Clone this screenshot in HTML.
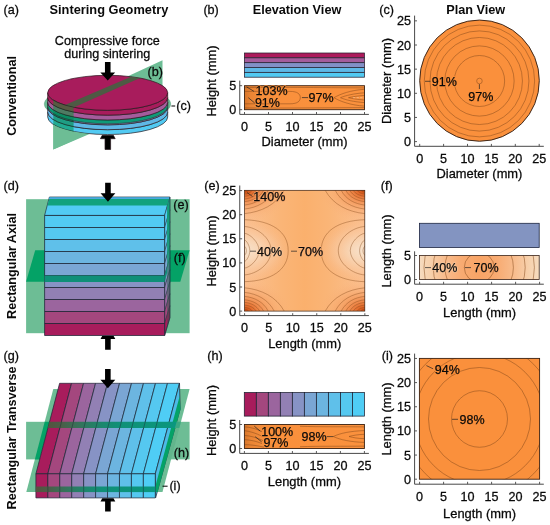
<!DOCTYPE html>
<html lang="en"><head><meta charset="utf-8"><title>Sintering geometry</title>
<style>
html,body{margin:0;padding:0;background:#fff;}
body{width:550px;height:525px;overflow:hidden;}
svg{display:block;font-family:"Liberation Sans",Arial,Helvetica,sans-serif;}
</style></head><body>
<svg width="550" height="525" viewBox="0 0 550 525">
<defs>
<radialGradient id="gC" cx="0.5" cy="0.5" r="0.5"><stop offset="0" stop-color="#f68c44"/><stop offset="1" stop-color="#f0873f"/></radialGradient>
<linearGradient id="gB" x1="0" x2="1" y1="0" y2="0"><stop offset="0" stop-color="#d8762a"/><stop offset="0.05" stop-color="#e98434"/><stop offset="0.15" stop-color="#f48e3c"/><stop offset="0.3" stop-color="#fa903c"/><stop offset="1" stop-color="#fa913d"/></linearGradient>
<linearGradient id="gF" x1="0" x2="1" y1="0" y2="0"><stop offset="0" stop-color="#f6dcc0"/><stop offset="0.08" stop-color="#f7d2ae"/><stop offset="0.2" stop-color="#f8be90"/><stop offset="0.35" stop-color="#f8ab72"/><stop offset="0.5" stop-color="#f8a466"/><stop offset="0.65" stop-color="#f8ab72"/><stop offset="0.8" stop-color="#f8be90"/><stop offset="0.92" stop-color="#f7d2ae"/><stop offset="1" stop-color="#f6dcc0"/></linearGradient>
<radialGradient id="gEcorner" cx="0.5" cy="0.5" r="0.5"><stop offset="0" stop-color="#d14a10" stop-opacity="1"/><stop offset="0.12" stop-color="#dd5e20" stop-opacity="0.95"/><stop offset="0.28" stop-color="#e97534" stop-opacity="0.8"/><stop offset="0.5" stop-color="#f18c4b" stop-opacity="0.5"/><stop offset="0.75" stop-color="#f6a268" stop-opacity="0.22"/><stop offset="1" stop-color="#f8b17b" stop-opacity="0"/></radialGradient>
<radialGradient id="gEside" cx="0.5" cy="0.5" r="0.5"><stop offset="0" stop-color="#f7e4d0" stop-opacity="1"/><stop offset="0.3" stop-color="#f8d8ba" stop-opacity="0.9"/><stop offset="0.65" stop-color="#f9c8a0" stop-opacity="0.5"/><stop offset="1" stop-color="#f8b17b" stop-opacity="0"/></radialGradient>
<linearGradient id="gEmid" x1="0" x2="1" y1="0" y2="0"><stop offset="0" stop-color="#fbc090"/><stop offset="0.3" stop-color="#fab577"/><stop offset="0.5" stop-color="#fab06d"/><stop offset="0.7" stop-color="#fab577"/><stop offset="1" stop-color="#fbc090"/></linearGradient>
<clipPath id="cE"><rect x="244.6" y="190.3" width="120.2" height="120.8"/></clipPath>
<clipPath id="cI"><rect x="419.4" y="358.4" width="120.2" height="120.8"/></clipPath>
<clipPath id="cF"><rect x="419.4" y="255.5" width="119.8" height="24"/></clipPath>
<clipPath id="cB"><rect x="244.5" y="85.7" width="120" height="24"/></clipPath>
<clipPath id="cH"><rect x="244.4" y="424.5" width="120" height="24"/></clipPath>
</defs>
<rect width="550" height="525" fill="#fff"/>

<text x="108.9" y="13.9" font-size="12.8" text-anchor="middle" font-weight="bold" fill="#0a0a0a">Sintering Geometry</text>
<text x="297" y="13.9" font-size="12.7" text-anchor="middle" font-weight="bold" fill="#0a0a0a">Elevation View</text>
<text x="475.7" y="13.9" font-size="12.7" text-anchor="middle" font-weight="bold" fill="#0a0a0a">Plan View</text>
<text x="15.7" y="96" font-size="12.6" text-anchor="middle" font-weight="bold" transform="rotate(-90 15.7 96)" fill="#0a0a0a">Conventional</text>
<text x="15.7" y="266" font-size="12.6" text-anchor="middle" font-weight="bold" transform="rotate(-90 15.7 266)" fill="#0a0a0a">Rectangular Axial</text>
<text x="15.7" y="438" font-size="12.6" text-anchor="middle" font-weight="bold" transform="rotate(-90 15.7 438)" fill="#0a0a0a">Rectangular Transverse</text>
<text x="3.6" y="13.9" font-size="12.6" text-anchor="start" fill="#0a0a0a" stroke="#0a0a0a" stroke-width="0.28">(a)</text>
<text x="203.4" y="13.9" font-size="12.6" text-anchor="start" fill="#0a0a0a" stroke="#0a0a0a" stroke-width="0.28">(b)</text>
<text x="379.2" y="13.9" font-size="12.6" text-anchor="start" fill="#0a0a0a" stroke="#0a0a0a" stroke-width="0.28">(c)</text>
<text x="3.6" y="189.7" font-size="12.6" text-anchor="start" fill="#0a0a0a" stroke="#0a0a0a" stroke-width="0.28">(d)</text>
<text x="204.2" y="190.3" font-size="12.6" text-anchor="start" fill="#0a0a0a" stroke="#0a0a0a" stroke-width="0.28">(e)</text>
<text x="380.7" y="190.3" font-size="12.6" text-anchor="start" fill="#0a0a0a" stroke="#0a0a0a" stroke-width="0.28">(f)</text>
<text x="3.6" y="359.6" font-size="12.6" text-anchor="start" fill="#0a0a0a" stroke="#0a0a0a" stroke-width="0.28">(g)</text>
<text x="207.2" y="360.3" font-size="12.6" text-anchor="start" fill="#0a0a0a" stroke="#0a0a0a" stroke-width="0.28">(h)</text>
<text x="381.7" y="360.3" font-size="12.6" text-anchor="start" fill="#0a0a0a" stroke="#0a0a0a" stroke-width="0.28">(i)</text>
<clipPath id="cTop"><ellipse cx="107.7" cy="92.8" rx="60.0" ry="17.5"/></clipPath>
<clipPath id="cDisc"><path d="M47.7 92.8A60.0 17.5 0 0 0 167.7 92.8V117.05A60.0 17.5 0 0 1 47.7 117.05Z"/></clipPath>
<g stroke="#2a1a20" stroke-width="0.7" stroke-linejoin="round">
<polygon points="53.3,110.7 162.5,60.3 162.5,100 53.3,149.6" fill="#6dbd95" stroke="none"/>
<path d="M102.20 135.3H113.40L115.20 138.70000000000002H110.60V149.5H105.00V138.70000000000002H100.40Z" fill="#000"/>
<ellipse cx="107.5" cy="104.0" rx="63.3" ry="19.2" fill="#6dbd95" stroke="#5fa080" stroke-width="0.4"/>
<path d="M47.7 112.19999999999999A60.0 17.5 0 0 0 167.7 112.19999999999999V117.05A60.0 17.5 0 0 1 47.7 117.05Z" fill="#52caf2"/>
<path d="M47.7 107.35A60.0 17.5 0 0 0 167.7 107.35V112.19999999999999A60.0 17.5 0 0 1 47.7 112.19999999999999Z" fill="#5fb8e6"/>
<path d="M47.7 102.5A60.0 17.5 0 0 0 167.7 102.5V107.35A60.0 17.5 0 0 1 47.7 107.35Z" fill="#8290c6"/>
<path d="M47.7 102.5A60.0 17.5 0 0 0 167.7 102.5V106.3A60.0 17.5 0 0 1 47.7 106.3Z" fill="#0f9a78" stroke-width="0.5"/>
<path d="M47.7 97.64999999999999A60.0 17.5 0 0 0 167.7 97.64999999999999V102.5A60.0 17.5 0 0 1 47.7 102.5Z" fill="#a45c9b"/>
<path d="M47.7 92.8A60.0 17.5 0 0 0 167.7 92.8V97.64999999999999A60.0 17.5 0 0 1 47.7 97.64999999999999Z" fill="#a81c5c"/>
<ellipse cx="107.7" cy="92.8" rx="60.0" ry="17.5" fill="#a81c5c"/>
</g>
<polygon clip-path="url(#cTop)" points="131,76.7 131.6,75.5 141,77.4 140,78.0 73.6,107.4 73.6,116 46,116 46,113.1" fill="#4e5a44"/>
<clipPath id="cTint"><rect x="53.3" y="95" width="20.3" height="50"/></clipPath>
<g clip-path="url(#cTint)" stroke="#1a2a22" stroke-width="0.6">
<path d="M47.7 112.19999999999999A60.0 17.5 0 0 0 167.7 112.19999999999999V117.05A60.0 17.5 0 0 1 47.7 117.05Z" fill="#22ab92"/>
<path d="M47.7 107.35A60.0 17.5 0 0 0 167.7 107.35V112.19999999999999A60.0 17.5 0 0 1 47.7 112.19999999999999Z" fill="#1f9d84"/>
<path d="M47.7 102.5A60.0 17.5 0 0 0 167.7 102.5V107.35A60.0 17.5 0 0 1 47.7 107.35Z" fill="#2a8a7a"/>
<path d="M47.7 102.5A60.0 17.5 0 0 0 167.7 102.5V106.3A60.0 17.5 0 0 1 47.7 106.3Z" fill="#0b8a62"/>
<path d="M47.7 97.64999999999999A60.0 17.5 0 0 0 167.7 97.64999999999999V102.5A60.0 17.5 0 0 1 47.7 102.5Z" fill="#4f7a62"/>
<path d="M47.7 92.8A60.0 17.5 0 0 0 167.7 92.8V97.64999999999999A60.0 17.5 0 0 1 47.7 97.64999999999999Z" fill="#585a42"/>
</g>
<path d="M53.3 124.6A60 17.5 0 0 0 89.5 133.9L53.3 149.6Z" fill="#6dbd95"/>
<path d="M104.95 61.9H110.55V72.5H115.15L107.75 80.6L100.35 72.5H104.95Z" fill="#000"/>
<text x="107.3" y="44.5" font-size="12.6" text-anchor="middle" fill="#0a0a0a" stroke="#0a0a0a" stroke-width="0.28">Compressive force</text>
<text x="107.3" y="57.8" font-size="12.6" text-anchor="middle" fill="#0a0a0a" stroke="#0a0a0a" stroke-width="0.28">during sintering</text>
<text x="147.5" y="76.0" font-size="12.6" text-anchor="start" fill="#0a0a0a" stroke="#0a0a0a" stroke-width="0.28">(b)</text>
<path d="M171.4 106H175.2" stroke="#000" stroke-width="1"/>
<text x="176.2" y="110.3" font-size="12.6" text-anchor="start" fill="#0a0a0a" stroke="#0a0a0a" stroke-width="0.28">(c)</text>
<g stroke="#2a2030" stroke-width="0.75">
<rect x="244.4" y="53.00" width="120.1" height="4.84" fill="#ad1a5b"/>
<rect x="244.4" y="57.84" width="120.1" height="4.84" fill="#a45c9b"/>
<rect x="244.4" y="62.68" width="120.1" height="4.84" fill="#8290c6"/>
<rect x="244.4" y="67.52" width="120.1" height="4.84" fill="#5fb8e6"/>
<rect x="244.4" y="72.36" width="120.1" height="4.84" fill="#52caf2"/>
</g>
<rect x="244.5" y="85.7" width="120" height="24" fill="url(#gB)"/>
<g clip-path="url(#cB)" fill="none" stroke="#84481a" stroke-width="0.5">
<path d="M244.5 87.6C270 87.2 300 87.4 364.5 87.9M244.5 107.9C270 108.2 300 108 364.5 107.6"/>
<path d="M244.5 91.4H290C297.5 91.4 300.3 94 300.3 97.6C300.3 101.2 297.5 103.8 290 103.8H244.5"/>
<path d="M364.5 89.3C351 90.2 340.5 93.8 334 97.7C340.5 101.6 351 105.2 364.5 106.1"/>
<path d="M364.5 92.8C354 93.5 345.5 95.5 340.5 97.7C345.5 99.9 354 101.9 364.5 102.6"/>
<path d="M364.5 95.4C358 95.8 352 96.8 348.5 97.7C352 98.6 358 99.6 364.5 100"/>
<path d="M353 97.7H364.5" stroke="#fbd0a6" stroke-width="0.6" stroke-dasharray="2.2 1.4"/>
</g>
<rect x="244.5" y="85.7" width="120" height="24" fill="none" stroke="#3a2010" stroke-width="0.9"/>
<path d="M246.6 86.9L254 91.4M248.3 97.7L254.6 102.9M301.9 97.6H308.2" stroke="#222" stroke-width="0.7" fill="none"/>
<text x="255.6" y="95.4" font-size="12.5" text-anchor="start" fill="#fa903c" stroke="#fa903c" stroke-width="1.5" stroke-linejoin="round" stroke-opacity="0.85">103%</text>
<text x="255.6" y="95.4" font-size="12.5" text-anchor="start" fill="#0a0a0a" stroke="#0a0a0a" stroke-width="0.25">103%</text>
<text x="254.9" y="106.7" font-size="12.5" text-anchor="start" fill="#fa903c" stroke="#fa903c" stroke-width="1.5" stroke-linejoin="round" stroke-opacity="0.85">91%</text>
<text x="254.9" y="106.7" font-size="12.5" text-anchor="start" fill="#0a0a0a" stroke="#0a0a0a" stroke-width="0.25">91%</text>
<text x="308.6" y="101.7" font-size="12.5" text-anchor="start" fill="#fa903c" stroke="#fa903c" stroke-width="1.5" stroke-linejoin="round" stroke-opacity="0.85">97%</text>
<text x="308.6" y="101.7" font-size="12.5" text-anchor="start" fill="#0a0a0a" stroke="#0a0a0a" stroke-width="0.25">97%</text>
<path d="M239.75 80.6V114.4H368.9" fill="none" stroke="#484848" stroke-width="1"/>
<text x="244.5" y="130.8" font-size="12.6" text-anchor="middle" fill="#0a0a0a" stroke="#0a0a0a" stroke-width="0.28">0</text>
<text x="268.5" y="130.8" font-size="12.6" text-anchor="middle" fill="#0a0a0a" stroke="#0a0a0a" stroke-width="0.28">5</text>
<text x="292.5" y="130.8" font-size="12.6" text-anchor="middle" fill="#0a0a0a" stroke="#0a0a0a" stroke-width="0.28">10</text>
<text x="316.5" y="130.8" font-size="12.6" text-anchor="middle" fill="#0a0a0a" stroke="#0a0a0a" stroke-width="0.28">15</text>
<text x="340.5" y="130.8" font-size="12.6" text-anchor="middle" fill="#0a0a0a" stroke="#0a0a0a" stroke-width="0.28">20</text>
<text x="364.5" y="130.8" font-size="12.6" text-anchor="middle" fill="#0a0a0a" stroke="#0a0a0a" stroke-width="0.28">25</text>
<text x="236.2" y="114.2" font-size="12.6" text-anchor="end" fill="#0a0a0a" stroke="#0a0a0a" stroke-width="0.28">0</text>
<text x="236.2" y="90.2" font-size="12.6" text-anchor="end" fill="#0a0a0a" stroke="#0a0a0a" stroke-width="0.28">5</text>
<path d="M244.50 114.4v-2.4M268.50 114.4v-2.4M292.50 114.4v-2.4M316.50 114.4v-2.4M340.50 114.4v-2.4M364.50 114.4v-2.4M239.75 109.70h2.4M239.75 85.70h2.4" fill="none" stroke="#484848" stroke-width="0.9"/>
<text x="304.5" y="146.1" font-size="12.9" text-anchor="middle" fill="#0a0a0a" stroke="#0a0a0a" stroke-width="0.28">Diameter (mm)</text>
<text x="215.6" y="81" font-size="12.9" text-anchor="middle" transform="rotate(-90 215.6 81)" fill="#0a0a0a" stroke="#0a0a0a" stroke-width="0.28">Height (mm)</text>
<ellipse cx="479.5" cy="80.65" rx="59.8" ry="60.6" fill="#fa903c" stroke="#2a1a12" stroke-width="0.9"/>
<g fill="none" stroke="#84481a" stroke-width="0.5">
<ellipse cx="479.45" cy="81" rx="2.8" ry="2.83"/>
<ellipse cx="479.45" cy="81" rx="25.2" ry="25.50"/>
<ellipse cx="479.45" cy="81" rx="34.7" ry="35.12"/>
<ellipse cx="479.45" cy="81" rx="43" ry="43.52"/>
<ellipse cx="479.45" cy="81" rx="49.5" ry="50.09"/>
<ellipse cx="479.45" cy="81" rx="55.2" ry="55.86"/>
</g>
<path d="M425 81.3H430.5M479.4 84.2V89" stroke="#222" stroke-width="0.7"/>
<text x="431.8" y="85.6" font-size="12.5" text-anchor="start" fill="#fa903c" stroke="#fa903c" stroke-width="1.5" stroke-linejoin="round" stroke-opacity="0.85">91%</text>
<text x="431.8" y="85.6" font-size="12.5" text-anchor="start" fill="#0a0a0a" stroke="#0a0a0a" stroke-width="0.25">91%</text>
<text x="480.8" y="101.3" font-size="12.5" text-anchor="middle" fill="#fa903c" stroke="#fa903c" stroke-width="1.5" stroke-linejoin="round" stroke-opacity="0.85">97%</text>
<text x="480.8" y="101.3" font-size="12.5" text-anchor="middle" fill="#0a0a0a" stroke="#0a0a0a" stroke-width="0.25">97%</text>
<path d="M414.6 15.6V146.3H543.8" fill="none" stroke="#484848" stroke-width="1"/>
<text x="419.7" y="162.7" font-size="12.6" text-anchor="middle" fill="#0a0a0a" stroke="#0a0a0a" stroke-width="0.28">0</text>
<text x="443.6" y="162.7" font-size="12.6" text-anchor="middle" fill="#0a0a0a" stroke="#0a0a0a" stroke-width="0.28">5</text>
<text x="467.5" y="162.7" font-size="12.6" text-anchor="middle" fill="#0a0a0a" stroke="#0a0a0a" stroke-width="0.28">10</text>
<text x="491.4" y="162.7" font-size="12.6" text-anchor="middle" fill="#0a0a0a" stroke="#0a0a0a" stroke-width="0.28">15</text>
<text x="515.3" y="162.7" font-size="12.6" text-anchor="middle" fill="#0a0a0a" stroke="#0a0a0a" stroke-width="0.28">20</text>
<text x="539.2" y="162.7" font-size="12.6" text-anchor="middle" fill="#0a0a0a" stroke="#0a0a0a" stroke-width="0.28">25</text>
<text x="411" y="146.1" font-size="12.6" text-anchor="end" fill="#0a0a0a" stroke="#0a0a0a" stroke-width="0.28">0</text>
<text x="411" y="121.95" font-size="12.6" text-anchor="end" fill="#0a0a0a" stroke="#0a0a0a" stroke-width="0.28">5</text>
<text x="411" y="97.8" font-size="12.6" text-anchor="end" fill="#0a0a0a" stroke="#0a0a0a" stroke-width="0.28">10</text>
<text x="411" y="73.65" font-size="12.6" text-anchor="end" fill="#0a0a0a" stroke="#0a0a0a" stroke-width="0.28">15</text>
<text x="411" y="49.5" font-size="12.6" text-anchor="end" fill="#0a0a0a" stroke="#0a0a0a" stroke-width="0.28">20</text>
<text x="411" y="25.35" font-size="12.6" text-anchor="end" fill="#0a0a0a" stroke="#0a0a0a" stroke-width="0.28">25</text>
<path d="M419.70 146.3v-2.4M443.60 146.3v-2.4M467.50 146.3v-2.4M491.40 146.3v-2.4M515.30 146.3v-2.4M539.20 146.3v-2.4M414.6 141.60h2.4M414.6 117.45h2.4M414.6 93.30h2.4M414.6 69.15h2.4M414.6 45.00h2.4M414.6 20.85h2.4" fill="none" stroke="#484848" stroke-width="0.9"/>
<text x="479.45" y="177.5" font-size="12.9" text-anchor="middle" fill="#0a0a0a" stroke="#0a0a0a" stroke-width="0.28">Diameter (mm)</text>
<text x="390.6" y="81" font-size="12.9" text-anchor="middle" transform="rotate(-90 390.6 81)" fill="#0a0a0a" stroke="#0a0a0a" stroke-width="0.28">Diameter (mm)</text>
<g stroke-linejoin="round">
<rect x="26.1" y="199.2" width="163.5" height="134" fill="#6dbd95"/>
<polygon points="35.2,250.2 189.6,250.2 180.3,281.7 26.1,281.7" fill="#04a266"/>
<path d="M102.30 335.7H113.50L115.30 339.09999999999997H110.70V349.8H105.10V339.09999999999997H100.50Z" fill="#000"/>
<polygon points="44.6,215.4 49.4,197.0 169.9,197.0 164.6,215.4" fill="#52cbf3" stroke="#203040" stroke-width="0.7"/>
<polygon points="48.90,198.9 49.199999999999996,197.4 169.6,197.4 169.35,198.9" fill="#4aa8de"/>
<polygon points="47.46,205.6 49.20,198.9 169.05,198.9 167.12,205.6" fill="#12a27c"/>
<g stroke="#203040" stroke-width="0.5">
<polygon points="164.6,215.5 169.9,197.70 169.9,209.70 164.6,227.5" fill="#52cbf3"/>
<polygon points="164.6,227.5 169.9,209.70 169.9,221.70 164.6,239.5" fill="#55c8f0"/>
<polygon points="164.6,239.5 169.9,221.70 169.9,233.70 164.6,251.5" fill="#5fc0ea"/>
<polygon points="164.6,251.5 169.9,233.70 169.9,245.70 164.6,263.5" fill="#6cb5e0"/>
<polygon points="164.6,263.5 169.9,245.70 169.9,257.70 164.6,275.5" fill="#7aa6d4"/>
<polygon points="164.6,275.5 169.9,257.70 169.9,269.70 164.6,287.5" fill="#8793c5"/>
<polygon points="164.6,287.5 169.9,269.70 169.9,281.70 164.6,299.5" fill="#9280b4"/>
<polygon points="164.6,299.5 169.9,281.70 169.9,293.70 164.6,311.5" fill="#9b659e"/>
<polygon points="164.6,311.5 169.9,293.70 169.9,305.70 164.6,323.5" fill="#a4477e"/>
<polygon points="164.6,323.5 169.9,305.70 169.9,317.70 164.6,335.5" fill="#a81c5c"/>
</g>
<linearGradient id="gSideD" x1="0" x2="0" y1="0" y2="1"><stop offset="0" stop-color="#0f9a72" stop-opacity="0.95"/><stop offset="0.45" stop-color="#0f9a72" stop-opacity="0.85"/><stop offset="0.6" stop-color="#2a6a5a" stop-opacity="0.55"/><stop offset="1" stop-color="#3a4a4a" stop-opacity="0.45"/></linearGradient>
<polygon points="167.05,206.60 169.9,197.70 169.9,317.70 167.05,326.60" fill="url(#gSideD)"/>
<path d="M169.9 197.0V317.70L164.6 335.5" fill="none" stroke="#203040" stroke-width="0.6"/>
<g stroke="#1d2535" stroke-width="0.75">
<rect x="44.6" y="215.5" width="120.0" height="12.0" fill="#52cbf3"/>
<rect x="44.6" y="227.5" width="120.0" height="12.0" fill="#55c8f0"/>
<rect x="44.6" y="239.5" width="120.0" height="12.0" fill="#5fc0ea"/>
<rect x="44.6" y="251.5" width="120.0" height="12.0" fill="#6cb5e0"/>
<rect x="44.6" y="263.5" width="120.0" height="12.0" fill="#7aa6d4"/>
<rect x="44.6" y="275.5" width="120.0" height="12.0" fill="#8793c5"/>
<rect x="44.6" y="287.5" width="120.0" height="12.0" fill="#9280b4"/>
<rect x="44.6" y="299.5" width="120.0" height="12.0" fill="#9b659e"/>
<rect x="44.6" y="311.5" width="120.0" height="12.0" fill="#a4477e"/>
<rect x="44.6" y="323.5" width="120.0" height="12.0" fill="#a81c5c"/>
</g>
<rect x="44.6" y="275.5" width="120.0" height="6.5" fill="#0e8f78"/>
<polygon points="164.6,275.5 167.05,266.60 167.05,273.10 164.6,282" fill="#0e8f78"/>
</g>
<path d="M105.15 182.8H110.75V193.3H115.35L107.95 201.8L100.55 193.3H105.15Z" fill="#000"/>
<text x="173.2" y="209.0" font-size="12.6" text-anchor="start" fill="#0a0a0a" stroke="#0a0a0a" stroke-width="0.28">(e)</text>
<text x="173.8" y="261.5" font-size="12.6" text-anchor="start" fill="#0a0a0a" stroke="#0a0a0a" stroke-width="0.28">(f)</text>
<rect x="244.6" y="190.3" width="120.2" height="120.8" fill="#f8b17b"/>
<g clip-path="url(#cE)">
<rect x="244.6" y="190.3" width="120.2" height="120.8" fill="url(#gEmid)"/>
<ellipse cx="244.6" cy="250.7" rx="50" ry="34" fill="url(#gEside)"/>
<ellipse cx="364.8" cy="250.7" rx="50" ry="34" fill="url(#gEside)"/>
<ellipse cx="244.6" cy="190.3" rx="46" ry="32" fill="url(#gEcorner)"/>
<ellipse cx="364.8" cy="190.3" rx="46" ry="32" fill="url(#gEcorner)"/>
<ellipse cx="244.6" cy="311.1" rx="46" ry="32" fill="url(#gEcorner)"/>
<ellipse cx="364.8" cy="311.1" rx="46" ry="32" fill="url(#gEcorner)"/>
<g fill="none" stroke="#84481a" stroke-width="0.5" stroke-opacity="0.8">
<path d="M244.6 219.7C271.6 220.6 288.2 231.5 288.2 250.7C288.2 269.9 271.6 280.8 244.6 281.7"/>
<path d="M364.8 219.7C337.8 220.6 321.2 231.5 321.2 250.7C321.2 269.9 337.8 280.8 364.8 281.7"/>
<path d="M244.6 226.5C256.5 227.2 271.1 237.4 271.1 250.7C271.1 264.0 256.5 274.2 244.6 274.9"/>
<path d="M364.8 226.5C352.9 227.2 338.3 237.4 338.3 250.7C338.3 264.0 352.9 274.2 364.8 274.9"/>
<path d="M244.6 233.3C249.7 233.8 259.1 242.0 259.1 250.7C259.1 259.4 249.7 267.6 244.6 268.1"/>
<path d="M364.8 233.3C359.7 233.8 350.3 242.0 350.3 250.7C350.3 259.4 359.7 267.6 364.8 268.1"/>
<path d="M244.6 240.0C246.2 240.3 249.8 245.3 249.8 250.7C249.8 256.1 246.2 261.1 244.6 261.4"/>
<path d="M364.8 240.0C363.2 240.3 359.6 245.3 359.6 250.7C359.6 256.1 363.2 261.1 364.8 261.4"/>
<path d="M244.6 246.2C245.1 246.3 246.4 248.4 246.4 250.7C246.4 252.9 245.1 255.1 244.6 255.2"/>
<path d="M364.8 246.2C364.3 246.3 363.0 248.4 363.0 250.7C363.0 252.9 364.3 255.1 364.8 255.2"/>
<path d="M244.6 213.6C261.2 212.0 276.3 204.7 284.2 190.3"/>
<path d="M244.6 287.8C261.2 289.4 276.3 296.7 284.2 311.1"/>
<path d="M364.8 213.6C348.2 212.0 333.1 204.7 325.2 190.3"/>
<path d="M364.8 287.8C348.2 289.4 333.1 296.7 325.2 311.1"/>
<path d="M244.6 209.0C257.0 207.7 268.3 201.9 274.2 190.3"/>
<path d="M244.6 292.4C257.0 293.7 268.3 299.5 274.2 311.1"/>
<path d="M364.8 209.0C352.4 207.7 341.1 201.9 335.2 190.3"/>
<path d="M364.8 292.4C352.4 293.7 341.1 299.5 335.2 311.1"/>
<path d="M244.6 205.0C254.5 204.0 263.5 199.4 268.2 190.3"/>
<path d="M244.6 296.4C254.5 297.4 263.5 302.0 268.2 311.1"/>
<path d="M364.8 205.0C354.9 204.0 345.9 199.4 341.2 190.3"/>
<path d="M364.8 296.4C354.9 297.4 345.9 302.0 341.2 311.1"/>
<path d="M244.6 201.6C252.6 200.8 259.8 197.3 263.6 190.3"/>
<path d="M244.6 299.8C252.6 300.6 259.8 304.1 263.6 311.1"/>
<path d="M364.8 201.6C356.8 200.8 349.6 197.3 345.8 190.3"/>
<path d="M364.8 299.8C356.8 300.6 349.6 304.1 345.8 311.1"/>
<path d="M244.6 199.0C250.9 198.4 256.6 195.7 259.6 190.3"/>
<path d="M244.6 302.4C250.9 303.0 256.6 305.7 259.6 311.1"/>
<path d="M364.8 199.0C358.5 198.4 352.8 195.7 349.8 190.3"/>
<path d="M364.8 302.4C358.5 303.0 352.8 305.7 349.8 311.1"/>
<path d="M244.6 196.3C249.5 195.9 253.9 194.0 256.2 190.3"/>
<path d="M244.6 305.1C249.5 305.5 253.9 307.4 256.2 311.1"/>
<path d="M364.8 196.3C359.9 195.9 355.5 194.0 353.2 190.3"/>
<path d="M364.8 305.1C359.9 305.5 355.5 307.4 353.2 311.1"/>
<path d="M244.6 194.0C247.8 193.7 250.7 192.6 252.2 190.3"/>
<path d="M244.6 307.4C247.8 307.7 250.7 308.8 252.2 311.1"/>
<path d="M364.8 194.0C361.6 193.7 358.7 192.6 357.2 190.3"/>
<path d="M364.8 307.4C361.6 307.7 358.7 308.8 357.2 311.1"/>
<path d="M244.6 192.1C246.3 192.0 247.8 191.4 248.6 190.3"/>
<path d="M244.6 309.3C246.3 309.4 247.8 310.0 248.6 311.1"/>
<path d="M364.8 192.1C363.1 192.0 361.6 191.4 360.8 190.3"/>
<path d="M364.8 309.3C363.1 309.4 361.6 310.0 360.8 311.1"/>
</g></g>
<rect x="244.6" y="190.3" width="120.2" height="120.8" fill="none" stroke="#3a2418" stroke-width="0.7"/>
<path d="M247 192.5L252.5 196.5M250 251.2H256M291 251.2H297" stroke="#222" stroke-width="0.7"/>
<text x="253.3" y="201.4" font-size="12.5" text-anchor="start" fill="#f6a66c" stroke="#f6a66c" stroke-width="1.5" stroke-linejoin="round" stroke-opacity="0.85">140%</text>
<text x="253.3" y="201.4" font-size="12.5" text-anchor="start" fill="#0a0a0a" stroke="#0a0a0a" stroke-width="0.25">140%</text>
<text x="257" y="255.7" font-size="12.5" text-anchor="start" fill="#f8c89f" stroke="#f8c89f" stroke-width="1.5" stroke-linejoin="round" stroke-opacity="0.85">40%</text>
<text x="257" y="255.7" font-size="12.5" text-anchor="start" fill="#0a0a0a" stroke="#0a0a0a" stroke-width="0.25">40%</text>
<text x="298" y="255.7" font-size="12.5" text-anchor="start" fill="#f8b27c" stroke="#f8b27c" stroke-width="1.5" stroke-linejoin="round" stroke-opacity="0.85">70%</text>
<text x="298" y="255.7" font-size="12.5" text-anchor="start" fill="#0a0a0a" stroke="#0a0a0a" stroke-width="0.25">70%</text>
<path d="M239.75 185.5V315.6H368.9" fill="none" stroke="#484848" stroke-width="1"/>
<text x="244.6" y="332.0" font-size="12.6" text-anchor="middle" fill="#0a0a0a" stroke="#0a0a0a" stroke-width="0.28">0</text>
<text x="268.65" y="332.0" font-size="12.6" text-anchor="middle" fill="#0a0a0a" stroke="#0a0a0a" stroke-width="0.28">5</text>
<text x="292.7" y="332.0" font-size="12.6" text-anchor="middle" fill="#0a0a0a" stroke="#0a0a0a" stroke-width="0.28">10</text>
<text x="316.75" y="332.0" font-size="12.6" text-anchor="middle" fill="#0a0a0a" stroke="#0a0a0a" stroke-width="0.28">15</text>
<text x="340.8" y="332.0" font-size="12.6" text-anchor="middle" fill="#0a0a0a" stroke="#0a0a0a" stroke-width="0.28">20</text>
<text x="364.85" y="332.0" font-size="12.6" text-anchor="middle" fill="#0a0a0a" stroke="#0a0a0a" stroke-width="0.28">25</text>
<text x="236.2" y="315.6" font-size="12.6" text-anchor="end" fill="#0a0a0a" stroke="#0a0a0a" stroke-width="0.28">0</text>
<text x="236.2" y="291.5" font-size="12.6" text-anchor="end" fill="#0a0a0a" stroke="#0a0a0a" stroke-width="0.28">5</text>
<text x="236.2" y="267.4" font-size="12.6" text-anchor="end" fill="#0a0a0a" stroke="#0a0a0a" stroke-width="0.28">10</text>
<text x="236.2" y="243.3" font-size="12.6" text-anchor="end" fill="#0a0a0a" stroke="#0a0a0a" stroke-width="0.28">15</text>
<text x="236.2" y="219.2" font-size="12.6" text-anchor="end" fill="#0a0a0a" stroke="#0a0a0a" stroke-width="0.28">20</text>
<text x="236.2" y="195.1" font-size="12.6" text-anchor="end" fill="#0a0a0a" stroke="#0a0a0a" stroke-width="0.28">25</text>
<path d="M244.60 315.6v-2.4M268.65 315.6v-2.4M292.70 315.6v-2.4M316.75 315.6v-2.4M340.80 315.6v-2.4M364.85 315.6v-2.4M239.75 311.10h2.4M239.75 287.00h2.4M239.75 262.90h2.4M239.75 238.80h2.4M239.75 214.70h2.4M239.75 190.60h2.4" fill="none" stroke="#484848" stroke-width="0.9"/>
<text x="304.73" y="347.8" font-size="12.9" text-anchor="middle" fill="#0a0a0a" stroke="#0a0a0a" stroke-width="0.28">Length (mm)</text>
<text x="215.6" y="251" font-size="12.9" text-anchor="middle" transform="rotate(-90 215.6 251)" fill="#0a0a0a" stroke="#0a0a0a" stroke-width="0.28">Height (mm)</text>
<rect x="419.4" y="223.3" width="119.8" height="24.2" fill="#8394c1" stroke="#1d2540" stroke-width="0.8"/>
<rect x="419.4" y="255.5" width="119.8" height="24" fill="url(#gF)"/>
<g clip-path="url(#cF)" fill="none" stroke="#84481a" stroke-width="0.5">
<circle cx="479.2" cy="267.5" r="14.9"/>
<circle cx="479.2" cy="267.5" r="34.2"/>
<circle cx="479.2" cy="267.5" r="46"/>
<circle cx="479.2" cy="267.5" r="55.2"/>
</g>
<rect x="419.4" y="255.5" width="119.8" height="24" fill="none" stroke="#3a2418" stroke-width="0.8"/>
<path d="M425 267.6H431M464.8 267.6H471" stroke="#222" stroke-width="0.7"/>
<text x="432.3" y="272.0" font-size="12.5" text-anchor="start" fill="#f7c9a0" stroke="#f7c9a0" stroke-width="1.5" stroke-linejoin="round" stroke-opacity="0.85">40%</text>
<text x="432.3" y="272.0" font-size="12.5" text-anchor="start" fill="#0a0a0a" stroke="#0a0a0a" stroke-width="0.25">40%</text>
<text x="473.6" y="272.0" font-size="12.5" text-anchor="start" fill="#f5a468" stroke="#f5a468" stroke-width="1.5" stroke-linejoin="round" stroke-opacity="0.85">70%</text>
<text x="473.6" y="272.0" font-size="12.5" text-anchor="start" fill="#0a0a0a" stroke="#0a0a0a" stroke-width="0.25">70%</text>
<path d="M414.6 251.3V284.2H543.8" fill="none" stroke="#484848" stroke-width="1"/>
<text x="419.6" y="300.6" font-size="12.6" text-anchor="middle" fill="#0a0a0a" stroke="#0a0a0a" stroke-width="0.28">0</text>
<text x="443.6" y="300.6" font-size="12.6" text-anchor="middle" fill="#0a0a0a" stroke="#0a0a0a" stroke-width="0.28">5</text>
<text x="467.6" y="300.6" font-size="12.6" text-anchor="middle" fill="#0a0a0a" stroke="#0a0a0a" stroke-width="0.28">10</text>
<text x="491.6" y="300.6" font-size="12.6" text-anchor="middle" fill="#0a0a0a" stroke="#0a0a0a" stroke-width="0.28">15</text>
<text x="515.6" y="300.6" font-size="12.6" text-anchor="middle" fill="#0a0a0a" stroke="#0a0a0a" stroke-width="0.28">20</text>
<text x="539.6" y="300.6" font-size="12.6" text-anchor="middle" fill="#0a0a0a" stroke="#0a0a0a" stroke-width="0.28">25</text>
<text x="411" y="284.0" font-size="12.6" text-anchor="end" fill="#0a0a0a" stroke="#0a0a0a" stroke-width="0.28">0</text>
<text x="411" y="260.0" font-size="12.6" text-anchor="end" fill="#0a0a0a" stroke="#0a0a0a" stroke-width="0.28">5</text>
<path d="M419.60 284.2v-2.4M443.60 284.2v-2.4M467.60 284.2v-2.4M491.60 284.2v-2.4M515.60 284.2v-2.4M539.60 284.2v-2.4M414.6 279.50h2.4M414.6 255.50h2.4" fill="none" stroke="#484848" stroke-width="0.9"/>
<text x="479.6" y="316.6" font-size="12.9" text-anchor="middle" fill="#0a0a0a" stroke="#0a0a0a" stroke-width="0.28">Length (mm)</text>
<text x="390.6" y="251" font-size="12.9" text-anchor="middle" transform="rotate(-90 390.6 251)" fill="#0a0a0a" stroke="#0a0a0a" stroke-width="0.28">Length (mm)</text>
<linearGradient id="gBand" x1="0" x2="1" y1="0" y2="0"><stop offset="0" stop-color="#55533f"/><stop offset="0.1" stop-color="#4c5d47"/><stop offset="0.2" stop-color="#3c6d55"/><stop offset="0.3" stop-color="#2d7a61"/><stop offset="0.42" stop-color="#1c876d"/><stop offset="0.55" stop-color="#109077"/><stop offset="1" stop-color="#0a977f"/></linearGradient>
<g stroke-linejoin="round">
<rect x="26.1" y="421.8" width="163.5" height="37.6" fill="#6dbd95"/>
<polygon points="53.3,389 189.6,389 162.5,492 26.3,492" fill="#6dbd95"/>
<polygon points="175.42,421.8 180.9,421.8 171,459.4 165.57,459.4" fill="#62b58c"/>
<polygon points="44.70,421.8 49.52,421.8 39.67,459.4 34.85,459.4" fill="#04a266"/>
<path d="M102.30 498.2H113.50L115.30 501.59999999999997H110.70V511.5H105.10V501.59999999999997H100.50Z" fill="#000"/>
<g stroke="#1d2535" stroke-width="0.7">
<polygon points="59.60,383.3 71.59,383.3 47.84,473.8 35.90,473.8" fill="#a81c5c"/>
<polygon points="71.59,383.3 83.58,383.3 59.78,473.8 47.84,473.8" fill="#a4477e"/>
<polygon points="83.58,383.3 95.57,383.3 71.72,473.8 59.78,473.8" fill="#9b659e"/>
<polygon points="95.57,383.3 107.56,383.3 83.66,473.8 71.72,473.8" fill="#9280b4"/>
<polygon points="107.56,383.3 119.55,383.3 95.60,473.8 83.66,473.8" fill="#8793c5"/>
<polygon points="119.55,383.3 131.54,383.3 107.54,473.8 95.60,473.8" fill="#7aa6d4"/>
<polygon points="131.54,383.3 143.53,383.3 119.48,473.8 107.54,473.8" fill="#6cb5e0"/>
<polygon points="143.53,383.3 155.52,383.3 131.42,473.8 119.48,473.8" fill="#5fc0ea"/>
<polygon points="155.52,383.3 167.51,383.3 143.36,473.8 131.42,473.8" fill="#55c8f0"/>
<polygon points="167.51,383.3 179.50,383.3 155.30,473.8 143.36,473.8" fill="#4fcdf5"/>
<polygon points="155.3,473.8 179.5,383.3 180.2,409.0 155.60000000000002,497.9" fill="#4cbbe6"/>
</g>
<clipPath id="cSide"><rect x="140" y="380" width="60" height="112"/></clipPath>
<polygon clip-path="url(#cSide)" points="155.3,486.40000000000003 179.7,395.90000000000003 180.5,409.3 155.8,498.2" fill="#04a266"/>
<polygon points="175.42,421.8 180.9,421.8 179.3,428.1 173.77,428.1" fill="#3aa882"/>
<g stroke="#1d2535" stroke-width="0.7">
<rect x="35.90" y="473.8" width="11.94" height="24.10" fill="#a81c5c"/>
<rect x="47.84" y="473.8" width="11.94" height="24.10" fill="#a4477e"/>
<rect x="59.78" y="473.8" width="11.94" height="24.10" fill="#9b659e"/>
<rect x="71.72" y="473.8" width="11.94" height="24.10" fill="#9280b4"/>
<rect x="83.66" y="473.8" width="11.94" height="24.10" fill="#8793c5"/>
<rect x="95.60" y="473.8" width="11.94" height="24.10" fill="#7aa6d4"/>
<rect x="107.54" y="473.8" width="11.94" height="24.10" fill="#6cb5e0"/>
<rect x="119.48" y="473.8" width="11.94" height="24.10" fill="#5fc0ea"/>
<rect x="131.42" y="473.8" width="11.94" height="24.10" fill="#55c8f0"/>
<rect x="143.36" y="473.8" width="11.94" height="24.10" fill="#4fcdf5"/>
</g>
<polygon points="49.52,421.8 176.66,421.8 174.91,428.1 47.87,428.1" fill="url(#gBand)"/>
<rect x="35.9" y="486.5" width="119.4" height="5.6" fill="url(#gBand)"/>
<path d="M61.49 421.8L59.83 428.1M47.84 486.5V492.1M73.46 421.8L71.80 428.1M59.78 486.5V492.1M85.42 421.8L83.76 428.1M71.72 486.5V492.1M97.39 421.8L95.73 428.1M83.66 486.5V492.1M109.36 421.8L107.69 428.1M95.60 486.5V492.1M121.33 421.8L119.66 428.1M107.54 486.5V492.1M133.30 421.8L131.62 428.1M119.48 486.5V492.1M145.27 421.8L143.59 428.1M131.42 486.5V492.1M157.24 421.8L155.56 428.1M143.36 486.5V492.1" stroke="#1d2535" stroke-width="0.7" stroke-opacity="0.6" fill="none"/>
</g>
<path d="M105.05 369.1H110.65V379.8H115.25L107.85 388.2L100.45 379.8H105.05Z" fill="#000"/>
<text x="173.8" y="456.6" font-size="12.6" text-anchor="start" fill="#0a0a0a" stroke="#0a0a0a" stroke-width="0.28">(h)</text>
<path d="M162.5 486.2H167.6" stroke="#000" stroke-width="1"/>
<text x="169.4" y="490.4" font-size="12.6" text-anchor="start" fill="#0a0a0a" stroke="#0a0a0a" stroke-width="0.28">(i)</text>
<g stroke="#1d2030" stroke-width="0.75">
<rect x="244.30" y="392.5" width="12.01" height="23.6" fill="#a81c5c"/>
<rect x="256.31" y="392.5" width="12.01" height="23.6" fill="#a4477e"/>
<rect x="268.32" y="392.5" width="12.01" height="23.6" fill="#9b659e"/>
<rect x="280.33" y="392.5" width="12.01" height="23.6" fill="#9280b4"/>
<rect x="292.34" y="392.5" width="12.01" height="23.6" fill="#8793c5"/>
<rect x="304.35" y="392.5" width="12.01" height="23.6" fill="#7aa6d4"/>
<rect x="316.36" y="392.5" width="12.01" height="23.6" fill="#6cb5e0"/>
<rect x="328.37" y="392.5" width="12.01" height="23.6" fill="#5fc0ea"/>
<rect x="340.38" y="392.5" width="12.01" height="23.6" fill="#55c8f0"/>
<rect x="352.39" y="392.5" width="12.01" height="23.6" fill="#4fcdf5"/>
</g>
<rect x="244.4" y="424.5" width="120" height="24" fill="url(#gB)"/>
<g clip-path="url(#cH)" fill="none" stroke="#84481a" stroke-width="0.5">
<path d="M244.4 426.8C250 427.2 256 428.6 262 431.6M244.4 430.6C250 431.4 256 433.2 262 436.2M244.4 435.4C250 435.9 257 437.4 263 440.6M244.4 439.6C250 440 256 441 262 443.6M244.4 444.6C250 444.7 258 445.6 264 447.2"/>
<path d="M364.4 430.6C351 431 340 433.2 333.3 436.5C340 439.8 351 442 364.4 442.4"/>
<path d="M364.4 434.3C358 434.5 353 435.4 349 436.5C353 437.6 358 438.5 364.4 438.7"/>
<path d="M300 426.3C320 427 345 426.6 364.4 426.9M300 446.7C320 446 345 446.4 364.4 446.1"/>
</g>
<rect x="244.4" y="424.5" width="120" height="24" fill="none" stroke="#3a2010" stroke-width="0.9"/>
<path d="M254.3 426.2L260.3 431.2M255.2 436.7L261.6 441.8M326.3 436.6H333.3" stroke="#222" stroke-width="0.7" fill="none"/>
<text x="261.2" y="436.0" font-size="12.5" text-anchor="start" fill="#fa903c" stroke="#fa903c" stroke-width="1.5" stroke-linejoin="round" stroke-opacity="0.85">100%</text>
<text x="261.2" y="436.0" font-size="12.5" text-anchor="start" fill="#0a0a0a" stroke="#0a0a0a" stroke-width="0.25">100%</text>
<text x="263.4" y="447.0" font-size="12.5" text-anchor="start" fill="#fa903c" stroke="#fa903c" stroke-width="1.5" stroke-linejoin="round" stroke-opacity="0.85">97%</text>
<text x="263.4" y="447.0" font-size="12.5" text-anchor="start" fill="#0a0a0a" stroke="#0a0a0a" stroke-width="0.25">97%</text>
<text x="301.6" y="441.0" font-size="12.5" text-anchor="start" fill="#fa903c" stroke="#fa903c" stroke-width="1.5" stroke-linejoin="round" stroke-opacity="0.85">98%</text>
<text x="301.6" y="441.0" font-size="12.5" text-anchor="start" fill="#0a0a0a" stroke="#0a0a0a" stroke-width="0.25">98%</text>
<path d="M239.7 420V453.4H368.9" fill="none" stroke="#484848" stroke-width="1"/>
<text x="244.4" y="469.8" font-size="12.6" text-anchor="middle" fill="#0a0a0a" stroke="#0a0a0a" stroke-width="0.28">0</text>
<text x="268.4" y="469.8" font-size="12.6" text-anchor="middle" fill="#0a0a0a" stroke="#0a0a0a" stroke-width="0.28">5</text>
<text x="292.4" y="469.8" font-size="12.6" text-anchor="middle" fill="#0a0a0a" stroke="#0a0a0a" stroke-width="0.28">10</text>
<text x="316.4" y="469.8" font-size="12.6" text-anchor="middle" fill="#0a0a0a" stroke="#0a0a0a" stroke-width="0.28">15</text>
<text x="340.4" y="469.8" font-size="12.6" text-anchor="middle" fill="#0a0a0a" stroke="#0a0a0a" stroke-width="0.28">20</text>
<text x="364.4" y="469.8" font-size="12.6" text-anchor="middle" fill="#0a0a0a" stroke="#0a0a0a" stroke-width="0.28">25</text>
<text x="236.2" y="453.0" font-size="12.6" text-anchor="end" fill="#0a0a0a" stroke="#0a0a0a" stroke-width="0.28">0</text>
<text x="236.2" y="429.0" font-size="12.6" text-anchor="end" fill="#0a0a0a" stroke="#0a0a0a" stroke-width="0.28">5</text>
<path d="M244.40 453.4v-2.4M268.40 453.4v-2.4M292.40 453.4v-2.4M316.40 453.4v-2.4M340.40 453.4v-2.4M364.40 453.4v-2.4M239.7 448.50h2.4M239.7 424.50h2.4" fill="none" stroke="#484848" stroke-width="0.9"/>
<text x="304.4" y="485.6" font-size="12.9" text-anchor="middle" fill="#0a0a0a" stroke="#0a0a0a" stroke-width="0.28">Length (mm)</text>
<text x="215.9" y="420.5" font-size="12.9" text-anchor="middle" transform="rotate(-90 215.9 420.5)" fill="#0a0a0a" stroke="#0a0a0a" stroke-width="0.28">Height (mm)</text>
<rect x="419.4" y="358.4" width="120.2" height="120.8" fill="#fa903c"/>
<g clip-path="url(#cI)" fill="none" stroke="#84481a" stroke-width="0.5">
<ellipse cx="479.5" cy="419" rx="28" ry="28.28"/>
<ellipse cx="479.5" cy="419" rx="51" ry="51.51"/>
<ellipse cx="479.5" cy="419" rx="65" ry="65.65"/>
<ellipse cx="479.5" cy="419" rx="76.6" ry="77.37"/>
</g>
<rect x="419.4" y="358.4" width="120.2" height="120.8" fill="none" stroke="#3a2010" stroke-width="0.9"/>
<path d="M426.4 365.6L433.1 368.8M452 419.3H458" stroke="#222" stroke-width="0.7"/>
<text x="434.8" y="373.7" font-size="12.5" text-anchor="start" fill="#fa903c" stroke="#fa903c" stroke-width="1.5" stroke-linejoin="round" stroke-opacity="0.85">94%</text>
<text x="434.8" y="373.7" font-size="12.5" text-anchor="start" fill="#0a0a0a" stroke="#0a0a0a" stroke-width="0.25">94%</text>
<text x="459.6" y="423.6" font-size="12.5" text-anchor="start" fill="#fa903c" stroke="#fa903c" stroke-width="1.5" stroke-linejoin="round" stroke-opacity="0.85">98%</text>
<text x="459.6" y="423.6" font-size="12.5" text-anchor="start" fill="#0a0a0a" stroke="#0a0a0a" stroke-width="0.25">98%</text>
<path d="M414.6 353.6V484.2H543.8" fill="none" stroke="#484848" stroke-width="1"/>
<text x="419.6" y="500.6" font-size="12.6" text-anchor="middle" fill="#0a0a0a" stroke="#0a0a0a" stroke-width="0.28">0</text>
<text x="443.6" y="500.6" font-size="12.6" text-anchor="middle" fill="#0a0a0a" stroke="#0a0a0a" stroke-width="0.28">5</text>
<text x="467.6" y="500.6" font-size="12.6" text-anchor="middle" fill="#0a0a0a" stroke="#0a0a0a" stroke-width="0.28">10</text>
<text x="491.6" y="500.6" font-size="12.6" text-anchor="middle" fill="#0a0a0a" stroke="#0a0a0a" stroke-width="0.28">15</text>
<text x="515.6" y="500.6" font-size="12.6" text-anchor="middle" fill="#0a0a0a" stroke="#0a0a0a" stroke-width="0.28">20</text>
<text x="539.6" y="500.6" font-size="12.6" text-anchor="middle" fill="#0a0a0a" stroke="#0a0a0a" stroke-width="0.28">25</text>
<text x="411" y="483.7" font-size="12.6" text-anchor="end" fill="#0a0a0a" stroke="#0a0a0a" stroke-width="0.28">0</text>
<text x="411" y="459.55" font-size="12.6" text-anchor="end" fill="#0a0a0a" stroke="#0a0a0a" stroke-width="0.28">5</text>
<text x="411" y="435.4" font-size="12.6" text-anchor="end" fill="#0a0a0a" stroke="#0a0a0a" stroke-width="0.28">10</text>
<text x="411" y="411.25" font-size="12.6" text-anchor="end" fill="#0a0a0a" stroke="#0a0a0a" stroke-width="0.28">15</text>
<text x="411" y="387.1" font-size="12.6" text-anchor="end" fill="#0a0a0a" stroke="#0a0a0a" stroke-width="0.28">20</text>
<text x="411" y="362.95" font-size="12.6" text-anchor="end" fill="#0a0a0a" stroke="#0a0a0a" stroke-width="0.28">25</text>
<path d="M419.60 484.2v-2.4M443.60 484.2v-2.4M467.60 484.2v-2.4M491.60 484.2v-2.4M515.60 484.2v-2.4M539.60 484.2v-2.4M414.6 479.20h2.4M414.6 455.05h2.4M414.6 430.90h2.4M414.6 406.75h2.4M414.6 382.60h2.4M414.6 358.45h2.4" fill="none" stroke="#484848" stroke-width="0.9"/>
<text x="479.6" y="517.5" font-size="12.9" text-anchor="middle" fill="#0a0a0a" stroke="#0a0a0a" stroke-width="0.28">Length (mm)</text>
<text x="390.6" y="419" font-size="12.9" text-anchor="middle" transform="rotate(-90 390.6 419)" fill="#0a0a0a" stroke="#0a0a0a" stroke-width="0.28">Length (mm)</text>
</svg></body></html>
